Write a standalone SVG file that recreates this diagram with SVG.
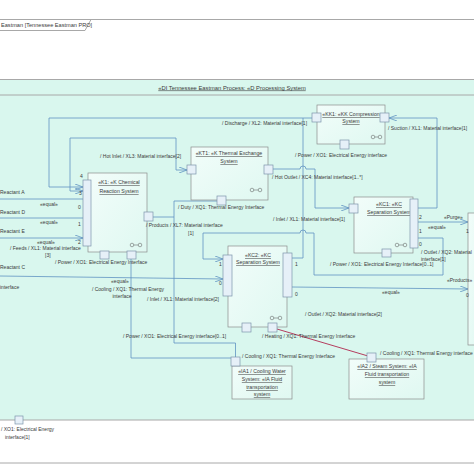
<svg xmlns="http://www.w3.org/2000/svg" width="474" height="474" viewBox="0 0 474 474">
<defs>
<marker id="ar" viewBox="0 0 8 6" refX="8" refY="3" markerWidth="8" markerHeight="6" markerUnits="userSpaceOnUse" orient="auto-start-reverse"><path d="M0,0 L8,3 L0,6" fill="none" stroke="#5f93c2" stroke-width="0.8"/></marker>
<linearGradient id="bg" x1="0" y1="0" x2="1" y2="1"><stop offset="0" stop-color="#f2fdfa"/><stop offset="1" stop-color="#dff8f1"/></linearGradient>
</defs>
<style>
text{font-family:"Liberation Sans",Arial,sans-serif;font-size:5px;fill:#3a3a3a}
.t{font-size:5.6px}
.u{text-decoration:underline;text-anchor:middle;font-size:5.2px}
.m{text-anchor:middle}
.fr{stroke:#a8a8a8;stroke-width:1;fill:none}
.c{fill:none;stroke:#5f93c2;stroke-width:0.8}
.cr{fill:none;stroke:#b0284e;stroke-width:0.9}
.b{fill:url(#bg);stroke:#8c8c8c;stroke-width:0.7}
.p{fill:#e6f0f8;stroke:#7d94ab;stroke-width:0.7}
.o{fill:none;stroke:#555;stroke-width:0.5}
</style>
<rect x="0" y="0" width="474" height="474" fill="#ffffff"/>
<g id="frame">
<line class="fr" x1="0" y1="19.5" x2="474" y2="19.5"/>
<polyline class="fr" points="0,30.5 85,30.5 91,19.5" stroke-width="0.7"/>
<text class="t" x="1" y="27">Eastman [Tennessee Eastman PRO]</text>
<rect x="0" y="79" width="474" height="341" fill="#d9f7ee"/>
<line class="fr" x1="0" y1="79.5" x2="474" y2="79.5"/>
<line class="fr" x1="0" y1="95" x2="474" y2="95"/>
<line class="fr" x1="0" y1="420" x2="474" y2="420"/>
<line class="fr" x1="0" y1="463" x2="474" y2="463"/>
<text class="u" x="232" y="89.5" style="font-size:5.8px">«DI Tennessee Eastman Process: «D Processing System</text>
<rect class="p" x="15" y="416" width="8" height="8"/>
<text x="1" y="431">/ XO1: Electrical Energy</text>
<text x="5" y="439">interface[1]</text>
</g>
<g id="connectors">
<path class="c" d="M312,118 H49 V187 H83" marker-end="url(#ar)"/>
<path class="c" d="M83,191 H70 V138 H176 V170 H187" marker-start="url(#ar)" marker-end="url(#ar)"/>
<path class="c" d="M0,199 H83"/>
<path class="c" d="M0,218 H83"/>
<path class="c" d="M0,238 H83" marker-end="url(#ar)"/>
<path class="c" d="M0,276 L223,279" marker-end="url(#ar)"/>
<path class="c" d="M153,217 H174 V201 H217"/>
<path class="c" d="M174,217 V343 H235.5 V357"/>
<path class="c" d="M131,259 V358 H231"/>
<path class="c" d="M272,169 H300 A3,3 0 0 1 306,169 H315 V208 H349" marker-end="url(#ar)"/>
<path class="c" d="M303,118 V258 H292"/>
<path class="c" d="M418,238 H443 V275 H314 V233 H306 A3,3 0 0 0 300,233 H203 V259 H223" marker-end="url(#ar)"/>
<path class="c" d="M418,208 H437 V118 H389" marker-end="url(#ar)"/>
<path class="c" d="M418,222 H468" marker-end="url(#ar)"/>
<path class="c" d="M292,287 L468,289" marker-end="url(#ar)"/>
<path class="cr" d="M277,329 L368,356"/>
</g>
<g id="k1">
<rect class="b" x="88" y="173" width="59" height="79"/>
<text class="u" x="119" y="184">«K1: «K Chemical</text>
<text class="u" x="119" y="193">Reaction System</text>
<rect class="p" x="83" y="180" width="8" height="66"/>
<rect class="p" x="144" y="212" width="9" height="9"/>
<rect class="p" x="100" y="251" width="9" height="8"/>
<rect class="p" x="127" y="251" width="9" height="8"/>
<circle class="o" cx="132" cy="245" r="1.8"/><circle class="o" cx="140" cy="245" r="1.8"/><line class="o" x1="133.8" y1="245" x2="138.2" y2="245"/>
</g>
<g id="thermal">
<rect class="b" x="191" y="147" width="77" height="53"/>
<text class="u" x="229" y="155">«KT1: «K Thermal Exchange</text>
<text class="u" x="229" y="163">System</text>
<rect class="p" x="187" y="165" width="9" height="9"/>
<rect class="p" x="264" y="165" width="9" height="9"/>
<rect class="p" x="217" y="196" width="9" height="9"/>
<circle class="o" cx="252" cy="190" r="1.8"/><circle class="o" cx="260" cy="190" r="1.8"/><line class="o" x1="253.8" y1="190" x2="258.2" y2="190"/>
</g>
<g id="compression">
<rect class="b" x="317" y="105" width="68" height="39"/>
<text class="u" x="351" y="116">«KK1: «KK Compression</text>
<text class="u" x="351" y="123">System</text>
<rect class="p" x="312" y="113" width="9" height="9"/>
<rect class="p" x="380" y="113" width="9" height="9"/>
<rect class="p" x="340" y="140" width="9" height="9"/>
<circle class="o" cx="373" cy="137" r="1.8"/><circle class="o" cx="380" cy="137" r="1.8"/><line class="o" x1="374.8" y1="137" x2="378.2" y2="137"/>
</g>
<g id="k3">
<rect class="b" x="354" y="197" width="59" height="56"/>
<text class="u" x="389" y="206">«KC1: «KC</text>
<text class="u" x="389" y="214">Separation System</text>
<rect class="p" x="349" y="204" width="9" height="9"/>
<rect class="p" x="410" y="199" width="8" height="49"/>
<rect class="p" x="382" y="249" width="9" height="8"/>
<circle class="o" cx="397" cy="245" r="1.8"/><circle class="o" cx="405" cy="245" r="1.8"/><line class="o" x1="398.8" y1="245" x2="403.2" y2="245"/>
</g>
<g id="k2">
<rect class="b" x="228" y="246" width="59" height="81"/>
<text class="u" x="258" y="257">«KC2: «KC</text>
<text class="u" x="258" y="264">Separation System</text>
<rect class="p" x="223" y="255" width="9" height="41"/>
<rect class="p" x="283" y="253" width="9" height="44"/>
<rect class="p" x="242" y="323" width="9" height="9"/>
<rect class="p" x="268" y="323" width="9" height="9"/>
<circle class="o" cx="272" cy="318" r="1.8"/><circle class="o" cx="280" cy="318" r="1.8"/><line class="o" x1="273.8" y1="318" x2="278.2" y2="318"/>
</g>
<g id="cooling">
<rect class="b" x="232" y="366" width="60" height="33"/>
<text class="u" x="262" y="373">«IA1  / Cooling Water</text>
<text class="u" x="262" y="381">System: «IA Fluid</text>
<text class="u" x="262" y="389">transportation</text>
<text class="u" x="262" y="396">system</text>
<rect class="p" x="231" y="357" width="9" height="9"/>
</g>
<g id="steam">
<rect class="b" x="349" y="359" width="75" height="40"/>
<text class="u" x="387" y="368">«IA2 / Steam System: «IA</text>
<text class="u" x="387" y="376">Fluid transportation</text>
<text class="u" x="387" y="384">system</text>
<rect class="p" x="367" y="353" width="9" height="9"/>
</g>
<g id="right">
<rect class="b" x="468" y="213" width="12" height="132"/>
</g>
<g id="labels">
<text x="222" y="125">/ Discharge / XL2: Material interface[1]</text>
<text x="100" y="158">/ Hot Inlet / XL3: Material interface[2]</text>
<text x="178" y="209">/ Duty / XQ1: Thermal Energy Interface</text>
<text x="146" y="227">/ Products / XL7: Material interface</text>
<text x="188" y="235">[1]</text>
<text x="295" y="157">/ Power / XO1: Electrical Energy interface</text>
<text x="272" y="179">/ Hot Outlet / XC4: Material interface[1..*]</text>
<text x="388" y="130">/ Suction / XL1: Material interface[1]</text>
<text x="273" y="221">/ Inlet / XL1: Material interface[1]</text>
<text x="55" y="264">/ Power / XO1: Electrical Energy Interface</text>
<text class="m" x="120" y="283">«equal»</text>
<text class="m" x="128" y="291">/ Cooling / XQ1: Thermal Energy</text>
<text class="m" x="122" y="298">interface</text>
<text x="147" y="301">/ Inlet / XL1: Material interface[2]</text>
<text x="123" y="338">/ Power / XO1: Electrical Energy interface[0..1]</text>
<text x="262" y="338">/ Heating / XQ1: Thermal Energy Interface</text>
<text x="305" y="316">/ Outlet / XQ2: Material interface[2]</text>
<text x="421" y="254">/ Outlet / XQ2: Material</text>
<text x="421" y="261">interface[1]</text>
<text x="330" y="266">/ Power / XO1: Electrical Energy Interface[0..1]</text>
<text class="m" x="391" y="294">«equal»</text>
<text class="m" x="437" y="229">«equal»</text>
<text x="444" y="219">«Purge»</text>
<text x="447" y="282">«Products»</text>
<text x="419" y="219">2</text><text x="419" y="233">1</text><text x="419" y="246">0</text>
<text x="466" y="233">1</text><text x="466" y="297">0</text>
<text x="80" y="178">4</text><text x="79" y="195">3</text><text x="78" y="209">0</text><text x="78" y="226">1</text><text x="78" y="244">2</text>
<text x="219" y="266">1</text><text x="219" y="285">0</text><text x="295" y="266">1</text><text x="295" y="296">0</text>
<text x="0" y="194">Reactant A</text>
<text x="0" y="214">Reactant D</text>
<text x="0" y="233">Reactant E</text>
<text x="0" y="269">Reactant C</text>
<text x="0" y="289">interface</text>
<text class="m" x="49" y="206">«equal»</text>
<text class="m" x="49" y="224">«equal»</text>
<text class="m" x="46" y="243.5">«equal»</text>
<text x="10" y="250">/ Feeds / XL1: Material interface</text>
<text x="45" y="257">[3]</text>
<text x="242" y="358">/ Cooling / XQ1: Thermal Energy Interface</text>
<text x="380" y="355">/ Cooling / XQ1: Thermal Energy interface</text>
</g>
</svg>
